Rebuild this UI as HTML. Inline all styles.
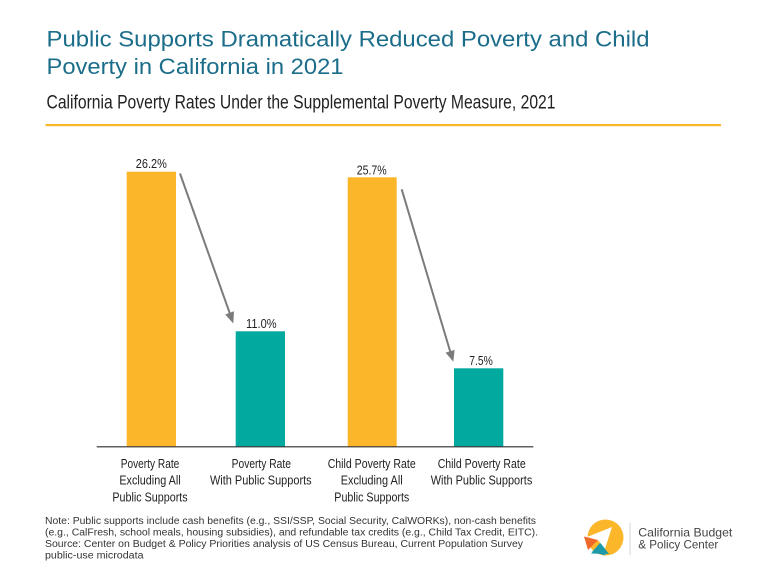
<!DOCTYPE html>
<html>
<head>
<meta charset="utf-8">
<style>
  html,body{margin:0;padding:0;background:#fff;}
  svg{display:block;}
  text{font-family:"Liberation Sans",sans-serif;}
  .n{font-family:"Liberation Sans Narrow","Liberation Sans",sans-serif;}
</style>
</head>
<body>
<svg width="768" height="577" viewBox="0 0 768 577" xmlns="http://www.w3.org/2000/svg">
  <rect width="768" height="577" fill="#fff"/>
  <!-- Title -->
  <text x="46.5" y="46.5" font-size="22.5" fill="#1b6d8a" textLength="603" lengthAdjust="spacingAndGlyphs">Public Supports Dramatically Reduced Poverty and Child</text>
  <text x="46.5" y="74" font-size="22.5" fill="#1b6d8a" textLength="297" lengthAdjust="spacingAndGlyphs">Poverty in California in 2021</text>
  <!-- Subtitle -->
  <text class="n" x="46.5" y="108.5" font-size="19" fill="#222" textLength="509" lengthAdjust="spacingAndGlyphs">California Poverty Rates Under the Supplemental Poverty Measure, 2021</text>
  <rect x="45.5" y="124" width="675.5" height="2.2" fill="#fbb72c"/>

  <!-- Bars -->
  <rect x="126.7" y="171.7" width="49.3" height="275" fill="#fbb62a"/>
  <rect x="235.7" y="331.3" width="49.3" height="115.4" fill="#02a99e"/>
  <rect x="347.7" y="177.3" width="49" height="269.4" fill="#fbb62a"/>
  <rect x="454" y="368.3" width="49.3" height="78.4" fill="#02a99e"/>

  <!-- Baseline axis -->
  <rect x="96.7" y="446.2" width="436.6" height="1.2" fill="#3a3a3a"/>

  <!-- Value labels -->
  <g font-size="13" fill="#222" text-anchor="middle">
    <text class="n" x="151.3" y="168" textLength="31" lengthAdjust="spacingAndGlyphs">26.2%</text>
    <text class="n" x="261.3" y="328" textLength="30.5" lengthAdjust="spacingAndGlyphs">11.0%</text>
    <text class="n" x="371.7" y="174.5" textLength="30" lengthAdjust="spacingAndGlyphs">25.7%</text>
    <text class="n" x="481" y="365" textLength="23.5" lengthAdjust="spacingAndGlyphs">7.5%</text>
  </g>

  <!-- Arrows -->
  <g stroke="#7b7b7b" stroke-width="2" fill="#7b7b7b">
    <line x1="180" y1="173.5" x2="229.8" y2="313.3"/>
    <polygon points="233.3,323.5 225.2,314.5 234.0,311.3" stroke="none"/>
    <line x1="401.7" y1="189.3" x2="450.2" y2="351.5"/>
    <polygon points="453.3,361.7 445.6,352.6 454.6,349.9" stroke="none"/>
  </g>

  <!-- Category labels -->
  <g font-size="12.8" fill="#222" text-anchor="middle">
    <text class="n" x="150" y="468" textLength="58.6" lengthAdjust="spacingAndGlyphs">Poverty Rate</text>
    <text class="n" x="150" y="484.7" textLength="61.3" lengthAdjust="spacingAndGlyphs">Excluding All</text>
    <text class="n" x="150" y="501.3" textLength="75.3" lengthAdjust="spacingAndGlyphs">Public Supports</text>

    <text class="n" x="261.3" y="468" textLength="59.3" lengthAdjust="spacingAndGlyphs">Poverty Rate</text>
    <text class="n" x="260.8" y="484.7" textLength="101.7" lengthAdjust="spacingAndGlyphs">With Public Supports</text>

    <text class="n" x="371.7" y="468" textLength="88" lengthAdjust="spacingAndGlyphs">Child Poverty Rate</text>
    <text class="n" x="371.7" y="484.7" textLength="62" lengthAdjust="spacingAndGlyphs">Excluding All</text>
    <text class="n" x="371.8" y="501.3" textLength="75" lengthAdjust="spacingAndGlyphs">Public Supports</text>

    <text class="n" x="481.7" y="468" textLength="88" lengthAdjust="spacingAndGlyphs">Child Poverty Rate</text>
    <text class="n" x="481.5" y="484.7" textLength="101.6" lengthAdjust="spacingAndGlyphs">With Public Supports</text>
  </g>

  <!-- Note -->
  <g font-size="10" fill="#333">
    <text x="45" y="524" textLength="491" lengthAdjust="spacingAndGlyphs">Note: Public supports include cash benefits (e.g., SSI/SSP, Social Security, CalWORKs), non-cash benefits</text>
    <text x="45" y="535.5" textLength="493" lengthAdjust="spacingAndGlyphs">(e.g., CalFresh, school meals, housing subsidies), and refundable tax credits (e.g., Child Tax Credit, EITC).</text>
    <text x="45" y="547" textLength="478" lengthAdjust="spacingAndGlyphs">Source: Center on Budget &amp; Policy Priorities analysis of US Census Bureau, Current Population Survey</text>
    <text x="45" y="558.5" textLength="98.5" lengthAdjust="spacingAndGlyphs">public-use microdata</text>
  </g>

  <!-- Logo -->
  <g>
    <circle cx="605.5" cy="537.5" r="18" fill="#fbb62a"/>
    <polygon points="587,537 612,527 604,552 599,541" fill="#fff"/>
    <polygon points="584,536.5 598,540 588,550" fill="#ef6a2a"/>
    <polygon points="600,543 605.5,555.5 592,552" fill="#1b9aa9"/>
    <polygon points="591,553.5 600.5,543 609,554" fill="#1b9aa9"/>
    <rect x="629.6" y="523" width="0.9" height="32" fill="#cfcfcf"/>
    <text x="638.3" y="536.7" font-size="12" fill="#444" textLength="94" lengthAdjust="spacingAndGlyphs">California Budget</text>
    <text x="638.3" y="548.5" font-size="12" fill="#444" textLength="80" lengthAdjust="spacingAndGlyphs">&amp; Policy Center</text>
  </g>
</svg>
</body>
</html>
